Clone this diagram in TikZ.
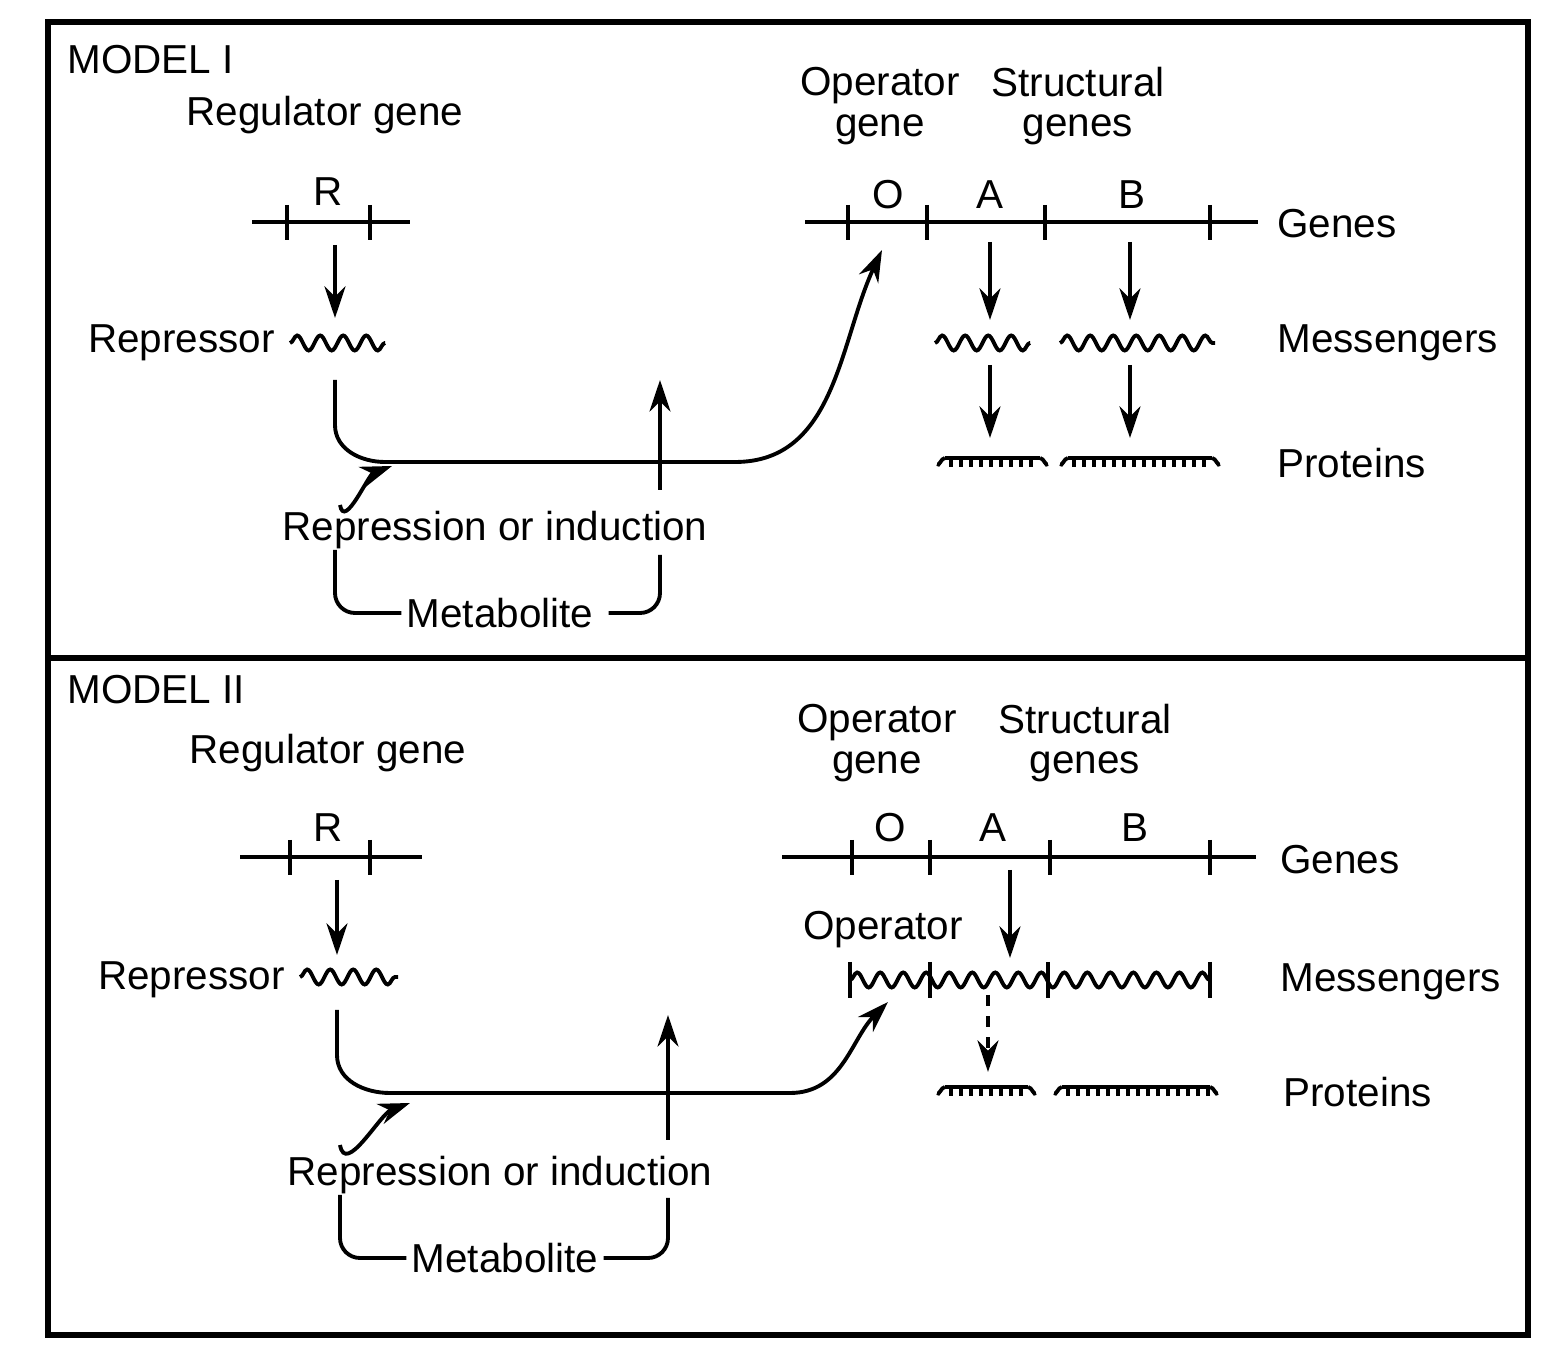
\documentclass[tikz,border=0pt]{standalone}
\usepackage{fontspec}
\setmainfont{Liberation Sans}
\usetikzlibrary{decorations.pathmorphing,arrows.meta}
\begin{document}
\begin{tikzpicture}[x=0.01cm,y=-0.01cm,line width=1.1pt,
  lbl/.style={font=\fontsize{11.5}{12.5}\selectfont,inner sep=1pt},
  lblc/.style={lbl,align=center},
  arr/.style={-{Stealth[length=9pt,width=6pt]}},
  wave/.style={decorate,decoration={snake,amplitude=0.75mm,segment length=2.3mm}},
  tick/.style={line width=1.1pt}]
\useasboundingbox (0,0) rectangle (1553,1349);
\draw[line width=1.6pt] (48,22) rectangle (1528,1335);
\draw[line width=1.6pt] (48,658) -- (1528,658);
% protein comb macro
\newcommand{\prot}[3]{% x1,x2,y
  \draw (#1,#3) -- (#2,#3);
  \draw (#1-8,#3+6) to[out=-60,in=180] (#1,#3);
  \draw (#2,#3) to[out=0,in=-120] (#2+8,#3+6);
  \pgfmathsetmacro{\st}{#1+6}\pgfmathsetmacro{\nx}{#1+16}
  \foreach \xx in {\st,\nx,...,#2}{\draw[line width=0.9pt] (\xx,#3) -- (\xx,#3+9);}}
% ================= MODEL I
\node[lbl,anchor=west] (m1) at (62,60) {MODEL I};
\node[lbl] (rg1) at (325,115) {Regulator gene};
\draw (252,222) -- (410,222);
\draw (287,205) -- (287,240) (370,205) -- (370,240);
\node[lbl] (R1) at (328,192) {R};
\coordinate (r1a) at (335,245); \coordinate (r1b) at (335,318);
\draw[arr] (r1a) -- (r1b);
\node[lbl,anchor=east] (rep1) at (280,343) {Repressor};
\draw[wave] (290,343) -- (385,343);
\coordinate (p1s) at (335,380); \coordinate (p1e) at (882,250);
\draw[arr] (p1s) -- (335,425) to[out=-90,in=180] (385,462) -- (735,462) to[out=0,in=-115] (p1e);
\coordinate (m1up) at (660,380);
\draw[arr] (660,490) -- (m1up);
\draw[arr] (340,505) to[out=-80,in=200] (392,466);
\node[lbl] (ri1) at (495,530) {Repression or induction};
\node[lbl] (met1) at (500,613) {Metabolite};
\draw (335,550) -- (335,593) to[out=-90,in=180] (355,613) -- (met1.west);
\draw (met1.east) ++(10,0) -- (640,613) to[out=0,in=-90] (660,593) -- (660,555);
% genes
\draw (805,222) -- (1258,222);
\foreach \t in {848,927,1045,1210} \draw (\t,205) -- (\t,240);
\node[lbl] (O1) at (888,195) {O};
\node[lbl] (A1) at (990,195) {A};
\node[lbl] (B1) at (1132,195) {B};
\node[lbl,anchor=west] (g1) at (1272,224) {Genes};
\node[lblc] (og1) at (880,106) {Operator\\[-1pt]gene};
\node[lblc] (sg1) at (1078,106) {Structural\\[-1pt]genes};
\draw[arr] (990,242) -- (990,320);
\draw[arr] (1130,242) -- (1130,320);
\draw[wave] (935,343) -- (1030,343);
\draw[wave] (1060,343) -- (1215,343);
\draw[arr] (990,365) -- (990,438);
\draw[arr] (1130,365) -- (1130,438);
\prot{945}{1040}{458}
\prot{1068}{1212}{458}
\node[lbl,anchor=west] (ms1) at (1272,343) {Messengers};
\node[lbl,anchor=west] (pr1) at (1272,463) {Proteins};
% ================= MODEL II
\node[lbl,anchor=west] (m2) at (62,690) {MODEL II};
\node[lbl] (rg2) at (328,753) {Regulator gene};
\draw (240,857) -- (422,857);
\draw (290,840) -- (290,875) (370,840) -- (370,875);
\node[lbl] (R2) at (328,828) {R};
\draw[arr] (337,880) -- (337,955);
\node[lbl,anchor=east] (rep2) at (290,980) {Repressor};
\draw[wave] (300,977) -- (398,977);
\coordinate (p2e) at (888,1002);
\draw[arr] (337,1010) -- (337,1055) to[out=-90,in=180] (390,1093) -- (790,1093) to[out=0,in=-135] (p2e);
\draw[arr] (668,1140) -- (668,1015);
\draw[arr] (340,1145) to[out=-80,in=200] (410,1103);
\node[lbl] (ri2) at (500,1175) {Repression or induction};
\node[lbl] (met2) at (505,1258) {Metabolite};
\draw (340,1195) -- (340,1238) to[out=-90,in=180] (360,1258) -- (met2.west);
\draw (met2.east) -- (648,1258) to[out=0,in=-90] (668,1238) -- (668,1198);
\draw (782,857) -- (1256,857);
\foreach \t in {852,930,1050,1210} \draw (\t,840) -- (\t,875);
\node[lbl] (O2) at (890,828) {O};
\node[lbl] (A2) at (993,828) {A};
\node[lbl] (B2) at (1135,828) {B};
\node[lbl,anchor=west] (g2) at (1275,860) {Genes};
\node[lblc] (og2) at (877,743) {Operator\\[-1pt]gene};
\node[lblc] (sg2) at (1085,743) {Structural\\[-1pt]genes};
\draw[arr] (1010,870) -- (1010,958);
\node[lbl] (op2) at (883,930) {Operator};
\draw[wave] (850,980) -- (1210,980);
\foreach \t in {850,930,1048,1210} \draw (\t,962) -- (\t,998);
\draw[arr,dashed] (988,995) -- (988,1072);
\prot{945}{1028}{1087}
\prot{1062}{1210}{1087}
\node[lbl,anchor=west] (ms2) at (1275,982) {Messengers};
\node[lbl,anchor=west] (pr2) at (1278,1092) {Proteins};
\end{tikzpicture}
\end{document}
